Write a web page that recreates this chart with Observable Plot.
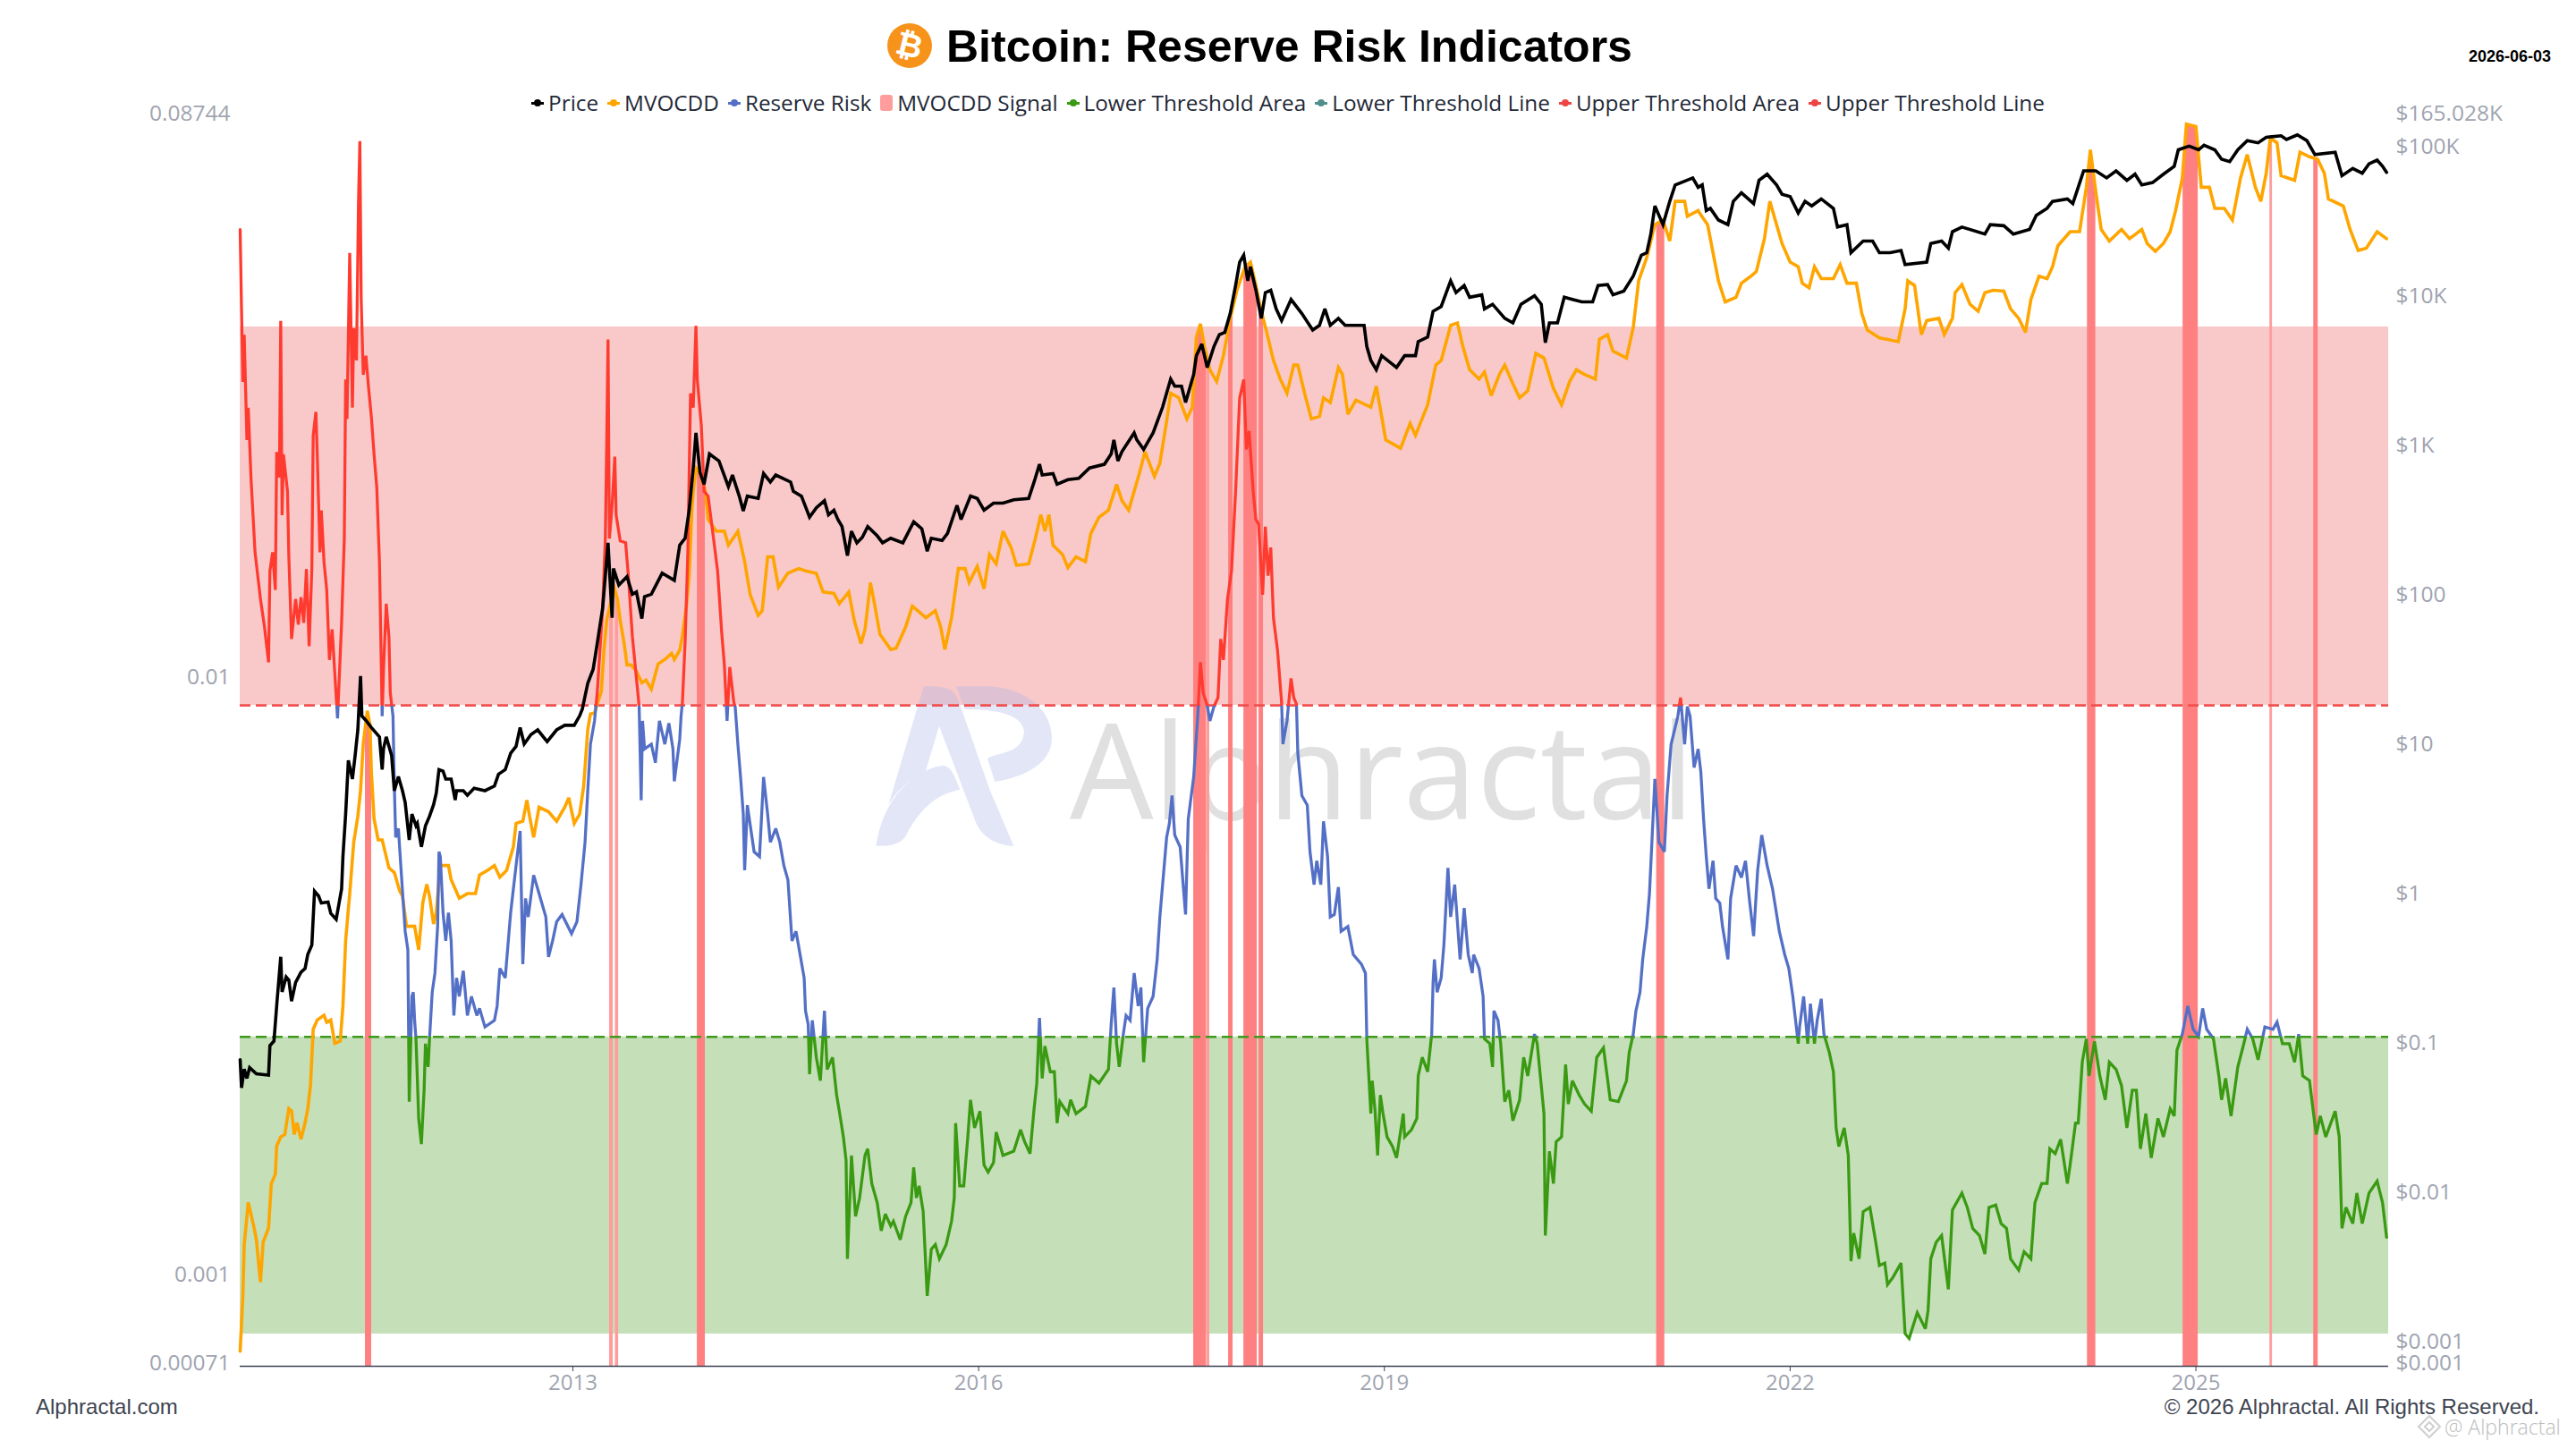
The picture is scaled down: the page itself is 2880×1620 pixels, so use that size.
<!DOCTYPE html>
<html><head><meta charset="utf-8">
<style>
html,body{margin:0;padding:0;background:#fff;width:2880px;height:1620px;overflow:hidden}
#page{position:relative;width:2880px;height:1620px}
#page svg.chart{position:absolute;left:0;top:0}
.abs{position:absolute;white-space:nowrap}
#title{left:1058px;top:22px;font:bold 50px "Liberation Sans",Arial,sans-serif;color:#000;line-height:60px}
#coin{left:992px;top:26px;width:50px;height:50px;border-radius:50%;background:#f7931a;color:#fff;font:bold 36px "DejaVu Sans",sans-serif;text-align:center;line-height:50px}
#coin span{display:inline-block;transform:rotate(14deg)}
#date{right:28px;top:53px;font:bold 18px "Liberation Sans",Arial,sans-serif;color:#000}
#legend{left:0;width:2890px;top:98px;display:flex;justify-content:center;align-items:center;font:24.3px "Open Sans",sans-serif;color:#1f2937;line-height:34px}
#legend .item{display:flex;align-items:center;margin-right:10px}
#legend .mark{position:relative;display:inline-block;width:14px;height:14px;margin-right:5px}
#legend .mark i{position:absolute;left:0;top:6px;width:14px;height:3px}
#legend .mark b{position:absolute;left:3px;top:3px;width:8px;height:8px;border-radius:50%}
#legend .mark.sq{border-radius:3px;height:18px}
.foot{font:24px "Liberation Sans",Arial,sans-serif;color:#3e4450;top:1560px;line-height:26px}
#wm{left:2733px;top:1586px;font:300 23px "Open Sans",sans-serif;color:#bdbdbd;line-height:18px}
#wmicon{left:2702px;top:1581px}
</style>
<script src="https://cdn.jsdelivr.net/npm/d3@7"></script>
<script src="https://cdn.jsdelivr.net/npm/@observablehq/plot@0.6"></script>
</head><body><div id="page">
<div class="abs" id="coin"><span>₿</span></div>
<div class="abs" id="title">Bitcoin: Reserve Risk Indicators</div>
<div class="abs" id="date">2026-06-03</div>
<div class="abs" id="legend"></div>
<div class="abs foot" style="left:40px">Alphractal.com</div>
<div class="abs foot" style="right:41px">© 2026 Alphractal. All Rights Reserved.</div>
<svg class="abs" id="wmicon" width="28" height="28" viewBox="0 0 28 28" fill="none" stroke="#cfcfcf" stroke-width="2"><path d="M14 2L26 14L14 26L2 14Z"/><path d="M14 9L19 14L14 19L9 14Z"/></svg>
<div class="abs" id="wm">@ Alphractal</div>
</div>
<script>
// [decimal year, log10 of the value on the price axis]
const priceSeries = [[2010.54,-1.095],[2010.55,-1.283],[2010.57,-1.158],[2010.59,-1.220],[2010.61,-1.148],[2010.66,-1.189],[2010.75,-1.198],[2010.76,-1.001],[2010.79,-.970],[2010.81,-.735],[2010.84,-.406],[2010.85,-.641],[2010.88,-.541],[2010.90,-.562],[2010.92,-.703],[2010.95,-.578],[2010.99,-.509],[2011.02,-.484],[2011.04,-.390],[2011.07,-.328],[2011.09,.033],[2011.12,.001],[2011.14,-.046],[2011.19,-.040],[2011.21,-.115],[2011.25,-.155],[2011.29,.048],[2011.30,.267],[2011.32,.549],[2011.34,.909],[2011.37,.784],[2011.39,.941],[2011.41,1.113],[2011.43,1.473],[2011.44,1.206],[2011.47,1.176],[2011.51,1.129],[2011.57,1.066],[2011.59,.847],[2011.60,.988],[2011.62,1.066],[2011.66,.941],[2011.68,.706],[2011.71,.800],[2011.74,.706],[2011.76,.628],[2011.79,.377],[2011.81,.549],[2011.84,.471],[2011.85,.487],[2011.88,.330],[2011.91,.471],[2011.94,.534],[2011.97,.612],[2011.99,.690],[2012.01,.847],[2012.04,.837],[2012.06,.784],[2012.10,.784],[2012.13,.643],[2012.14,.706],[2012.19,.706],[2012.22,.675],[2012.27,.722],[2012.35,.706],[2012.42,.737],[2012.45,.816],[2012.50,.847],[2012.54,.957],[2012.58,1.003],[2012.61,1.129],[2012.64,1.019],[2012.69,1.082],[2012.74,1.113],[2012.81,1.035],[2012.88,1.113],[2012.94,1.144],[2013.01,1.144],[2013.05,1.207],[2013.07,1.253],[2013.11,1.425],[2013.15,1.519],[2013.18,1.691],[2013.22,1.927],[2013.24,2.146],[2013.26,2.365],[2013.29,1.864],[2013.30,2.193],[2013.34,2.083],[2013.40,2.139],[2013.44,2.021],[2013.47,2.036],[2013.51,1.858],[2013.53,2.005],[2013.58,2.021],[2013.66,2.162],[2013.75,2.114],[2013.79,2.349],[2013.83,2.396],[2013.86,2.584],[2013.89,2.866],[2013.91,3.101],[2013.94,2.835],[2013.97,2.757],[2014.01,2.960],[2014.08,2.913],[2014.15,2.741],[2014.18,2.819],[2014.23,2.678],[2014.26,2.578],[2014.29,2.678],[2014.37,2.663],[2014.41,2.829],[2014.46,2.772],[2014.50,2.819],[2014.61,2.772],[2014.63,2.710],[2014.69,2.678],[2014.75,2.537],[2014.80,2.600],[2014.86,2.647],[2014.89,2.553],[2014.93,2.584],[2014.96,2.521],[2014.99,2.474],[2015.03,2.280],[2015.06,2.443],[2015.10,2.365],[2015.14,2.402],[2015.18,2.474],[2015.25,2.412],[2015.29,2.365],[2015.35,2.396],[2015.44,2.365],[2015.52,2.506],[2015.58,2.459],[2015.62,2.309],[2015.65,2.396],[2015.73,2.381],[2015.77,2.428],[2015.84,2.616],[2015.87,2.521],[2015.94,2.678],[2015.99,2.662],[2016.04,2.584],[2016.11,2.631],[2016.18,2.631],[2016.26,2.653],[2016.37,2.662],[2016.41,2.772],[2016.45,2.891],[2016.47,2.819],[2016.55,2.829],[2016.58,2.757],[2016.66,2.788],[2016.74,2.797],[2016.82,2.866],[2016.93,2.891],[2016.98,2.960],[2017.00,3.054],[2017.03,2.913],[2017.06,2.976],[2017.15,3.101],[2017.17,3.054],[2017.22,2.991],[2017.29,3.101],[2017.36,3.273],[2017.42,3.461],[2017.45,3.414],[2017.50,3.414],[2017.53,3.305],[2017.59,3.492],[2017.61,3.618],[2017.65,3.696],[2017.69,3.539],[2017.74,3.680],[2017.78,3.759],[2017.82,3.774],[2017.86,3.900],[2017.90,4.088],[2017.93,4.244],[2017.96,4.291],[2017.99,4.119],[2018.01,4.213],[2018.05,4.056],[2018.09,3.868],[2018.12,4.040],[2018.16,4.056],[2018.20,3.931],[2018.24,3.853],[2018.31,3.994],[2018.39,3.900],[2018.47,3.790],[2018.52,3.821],[2018.56,3.931],[2018.60,3.821],[2018.66,3.868],[2018.71,3.821],[2018.85,3.821],[2018.87,3.680],[2018.90,3.586],[2018.94,3.524],[2018.98,3.618],[2019.09,3.539],[2019.15,3.618],[2019.23,3.618],[2019.25,3.712],[2019.32,3.743],[2019.36,3.915],[2019.42,3.947],[2019.49,4.119],[2019.53,4.040],[2019.59,4.088],[2019.63,4.009],[2019.72,4.025],[2019.74,3.931],[2019.80,3.962],[2019.89,3.868],[2019.95,3.837],[2020.01,3.962],[2020.11,4.019],[2020.16,3.962],[2020.19,3.705],[2020.22,3.837],[2020.28,3.837],[2020.33,4.009],[2020.39,3.994],[2020.46,3.978],[2020.54,3.978],[2020.58,4.088],[2020.65,4.094],[2020.69,4.025],[2020.77,4.050],[2020.84,4.150],[2020.90,4.291],[2020.94,4.307],[2020.97,4.432],[2021.00,4.620],[2021.06,4.495],[2021.11,4.651],[2021.15,4.761],[2021.28,4.808],[2021.32,4.745],[2021.35,4.761],[2021.38,4.589],[2021.41,4.604],[2021.47,4.526],[2021.54,4.495],[2021.58,4.651],[2021.64,4.708],[2021.73,4.636],[2021.77,4.792],[2021.83,4.833],[2021.90,4.761],[2021.94,4.698],[2022.00,4.683],[2022.06,4.573],[2022.11,4.651],[2022.16,4.620],[2022.23,4.667],[2022.32,4.604],[2022.35,4.479],[2022.42,4.495],[2022.45,4.307],[2022.54,4.385],[2022.61,4.385],[2022.66,4.307],[2022.74,4.307],[2022.82,4.322],[2022.85,4.228],[2023.01,4.244],[2023.04,4.369],[2023.12,4.385],[2023.17,4.338],[2023.20,4.448],[2023.27,4.479],[2023.44,4.432],[2023.48,4.495],[2023.58,4.488],[2023.65,4.432],[2023.77,4.463],[2023.82,4.557],[2023.90,4.604],[2023.94,4.651],[2024.05,4.667],[2024.09,4.636],[2024.13,4.745],[2024.17,4.855],[2024.26,4.855],[2024.34,4.808],[2024.41,4.855],[2024.49,4.792],[2024.55,4.833],[2024.60,4.761],[2024.68,4.777],[2024.76,4.833],[2024.84,4.886],[2024.87,4.996],[2024.95,5.021],[2025.02,4.996],[2025.06,5.027],[2025.14,4.996],[2025.19,4.933],[2025.25,4.917],[2025.31,4.996],[2025.38,5.058],[2025.46,5.043],[2025.52,5.080],[2025.63,5.090],[2025.67,5.065],[2025.75,5.096],[2025.82,5.058],[2025.88,4.964],[2026.03,4.980],[2026.08,4.823],[2026.16,4.871],[2026.23,4.839],[2026.28,4.902],[2026.34,4.927],[2026.38,4.886],[2026.41,4.845]];

const mvocddSeries = [[2010.54,-3.046],[2010.56,-2.677],[2010.57,-2.332],[2010.60,-2.050],[2010.62,-2.129],[2010.64,-2.207],[2010.66,-2.300],[2010.69,-2.583],[2010.71,-2.316],[2010.75,-2.222],[2010.77,-1.925],[2010.80,-1.862],[2010.81,-1.674],[2010.84,-1.611],[2010.87,-1.596],[2010.90,-1.423],[2010.92,-1.439],[2010.94,-1.596],[2010.96,-1.517],[2010.99,-1.627],[2011.02,-1.517],[2011.04,-1.423],[2011.06,-1.267],[2011.08,-.891],[2011.11,-.829],[2011.16,-.797],[2011.18,-.844],[2011.21,-.829],[2011.24,-.985],[2011.28,-.970],[2011.30,-.735],[2011.32,-.296],[2011.35,.017],[2011.38,.362],[2011.41,.534],[2011.43,.706],[2011.45,1.019],[2011.48,1.241],[2011.50,1.146],[2011.51,.831],[2011.53,.518],[2011.56,.377],[2011.59,.377],[2011.64,.189],[2011.68,.158],[2011.72,.033],[2011.74,.001],[2011.77,-.202],[2011.83,-.202],[2011.86,-.359],[2011.89,-.046],[2011.92,.080],[2011.94,.001],[2011.97,-.186],[2011.99,-.108],[2012.02,.205],[2012.08,.205],[2012.10,.111],[2012.16,-.014],[2012.22,.017],[2012.28,.017],[2012.31,.142],[2012.37,.173],[2012.42,.205],[2012.46,.127],[2012.51,.173],[2012.56,.330],[2012.58,.487],[2012.63,.502],[2012.66,.643],[2012.68,.534],[2012.71,.393],[2012.75,.596],[2012.82,.565],[2012.88,.502],[2012.94,.596],[2012.97,.659],[2013.01,.487],[2013.05,.549],[2013.08,.737],[2013.11,1.113],[2013.13,1.219],[2013.16,1.226],[2013.18,1.285],[2013.21,1.368],[2013.23,1.646],[2013.25,1.847],[2013.28,1.967],[2013.30,2.087],[2013.33,1.985],[2013.35,1.847],[2013.38,1.686],[2013.40,1.548],[2013.43,1.548],[2013.47,1.506],[2013.51,1.428],[2013.54,1.447],[2013.58,1.386],[2013.63,1.554],[2013.68,1.584],[2013.73,1.625],[2013.75,1.584],[2013.79,1.646],[2013.81,1.745],[2013.84,1.945],[2013.86,2.146],[2013.88,2.585],[2013.89,2.709],[2013.91,2.866],[2013.94,2.835],[2013.98,2.709],[2014.00,2.521],[2014.06,2.443],[2014.12,2.443],[2014.15,2.349],[2014.22,2.443],[2014.27,2.240],[2014.31,2.021],[2014.37,1.879],[2014.40,1.911],[2014.44,2.271],[2014.48,2.271],[2014.52,2.068],[2014.59,2.162],[2014.67,2.193],[2014.72,2.177],[2014.80,2.161],[2014.85,2.036],[2014.93,2.027],[2014.97,1.958],[2015.04,2.036],[2015.08,1.848],[2015.13,1.691],[2015.16,1.785],[2015.20,2.099],[2015.23,1.958],[2015.27,1.754],[2015.35,1.651],[2015.39,1.660],[2015.46,1.801],[2015.51,1.942],[2015.61,1.864],[2015.68,1.911],[2015.72,1.801],[2015.75,1.651],[2015.80,1.864],[2015.85,2.193],[2015.90,2.193],[2015.93,2.099],[2015.99,2.208],[2016.04,2.058],[2016.08,2.287],[2016.13,2.224],[2016.18,2.443],[2016.24,2.334],[2016.28,2.215],[2016.37,2.224],[2016.42,2.396],[2016.46,2.553],[2016.49,2.443],[2016.52,2.553],[2016.55,2.349],[2016.62,2.287],[2016.66,2.199],[2016.72,2.271],[2016.79,2.240],[2016.83,2.428],[2016.89,2.537],[2016.96,2.584],[2017.02,2.756],[2017.06,2.647],[2017.11,2.584],[2017.19,2.835],[2017.23,2.976],[2017.30,2.810],[2017.34,2.897],[2017.39,3.179],[2017.42,3.367],[2017.48,3.336],[2017.54,3.195],[2017.58,3.273],[2017.61,3.743],[2017.64,3.831],[2017.67,3.680],[2017.71,3.524],[2017.76,3.445],[2017.81,3.618],[2017.86,3.868],[2017.91,4.056],[2017.97,4.213],[2018.01,4.244],[2018.05,4.088],[2018.09,3.915],[2018.13,3.774],[2018.18,3.586],[2018.23,3.461],[2018.28,3.367],[2018.33,3.555],[2018.36,3.555],[2018.41,3.367],[2018.46,3.195],[2018.52,3.211],[2018.55,3.336],[2018.60,3.305],[2018.66,3.539],[2018.69,3.492],[2018.73,3.226],[2018.79,3.320],[2018.90,3.273],[2018.94,3.414],[2018.98,3.211],[2019.01,3.054],[2019.12,2.998],[2019.19,3.164],[2019.23,3.085],[2019.32,3.289],[2019.38,3.555],[2019.42,3.586],[2019.49,3.821],[2019.54,3.837],[2019.58,3.680],[2019.63,3.524],[2019.70,3.461],[2019.74,3.508],[2019.79,3.351],[2019.85,3.492],[2019.89,3.555],[2019.95,3.430],[2020.00,3.336],[2020.06,3.383],[2020.12,3.633],[2020.18,3.602],[2020.25,3.398],[2020.31,3.289],[2020.37,3.445],[2020.42,3.524],[2020.48,3.492],[2020.56,3.461],[2020.59,3.727],[2020.65,3.759],[2020.69,3.649],[2020.79,3.602],[2020.84,3.806],[2020.88,4.119],[2020.94,4.275],[2021.00,4.495],[2021.06,4.526],[2021.11,4.385],[2021.15,4.651],[2021.22,4.651],[2021.24,4.551],[2021.32,4.589],[2021.33,4.573],[2021.39,4.495],[2021.43,4.307],[2021.47,4.119],[2021.52,3.978],[2021.60,4.009],[2021.64,4.103],[2021.71,4.150],[2021.75,4.181],[2021.81,4.401],[2021.85,4.651],[2021.90,4.495],[2021.94,4.369],[2022.00,4.244],[2022.06,4.213],[2022.09,4.103],[2022.14,4.072],[2022.18,4.213],[2022.23,4.134],[2022.32,4.134],[2022.37,4.228],[2022.42,4.103],[2022.49,4.103],[2022.53,3.900],[2022.57,3.790],[2022.66,3.737],[2022.72,3.727],[2022.80,3.712],[2022.85,3.931],[2022.87,4.119],[2022.92,4.088],[2022.97,3.759],[2023.01,3.853],[2023.10,3.868],[2023.14,3.759],[2023.20,3.868],[2023.22,4.040],[2023.27,4.094],[2023.33,3.962],[2023.39,3.915],[2023.44,4.040],[2023.50,4.056],[2023.58,4.050],[2023.63,3.931],[2023.69,3.868],[2023.74,3.774],[2023.78,3.994],[2023.84,4.150],[2023.90,4.134],[2023.94,4.213],[2023.98,4.354],[2024.07,4.448],[2024.14,4.448],[2024.19,4.745],[2024.22,4.996],[2024.26,4.714],[2024.30,4.463],[2024.36,4.385],[2024.45,4.463],[2024.51,4.401],[2024.60,4.463],[2024.64,4.369],[2024.70,4.316],[2024.76,4.369],[2024.81,4.448],[2024.85,4.589],[2024.90,4.808],[2024.93,5.168],[2025.00,5.152],[2025.04,4.745],[2025.10,4.745],[2025.14,4.604],[2025.21,4.604],[2025.27,4.526],[2025.33,4.808],[2025.38,4.964],[2025.44,4.745],[2025.48,4.651],[2025.52,4.839],[2025.55,5.074],[2025.60,5.043],[2025.63,4.823],[2025.73,4.792],[2025.77,4.980],[2025.84,4.949],[2025.90,4.933],[2025.95,4.839],[2025.98,4.667],[2026.09,4.620],[2026.14,4.463],[2026.20,4.322],[2026.26,4.338],[2026.34,4.448],[2026.41,4.401]];

// [decimal year, log10 of Reserve Risk on the left axis]
const riskSeries = [[2010.54,-1.247],[2010.55,-1.380],[2010.56,-1.502],[2010.57,-1.423],[2010.59,-1.599],[2010.60,-1.545],[2010.62,-1.662],[2010.65,-1.787],[2010.69,-1.865],[2010.72,-1.912],[2010.75,-1.971],[2010.76,-1.818],[2010.78,-1.787],[2010.80,-1.850],[2010.81,-1.619],[2010.83,-1.662],[2010.84,-1.400],[2010.85,-1.725],[2010.86,-1.623],[2010.89,-1.685],[2010.90,-1.795],[2010.92,-1.932],[2010.95,-1.865],[2010.97,-1.908],[2010.99,-1.862],[2011.01,-1.905],[2011.03,-1.815],[2011.05,-1.944],[2011.07,-1.815],[2011.08,-1.592],[2011.10,-1.552],[2011.11,-1.623],[2011.13,-1.787],[2011.14,-1.717],[2011.16,-1.803],[2011.18,-1.850],[2011.20,-1.967],[2011.22,-1.916],[2011.26,-2.065],[2011.29,-1.905],[2011.31,-1.764],[2011.32,-1.498],[2011.33,-1.564],[2011.35,-1.286],[2011.37,-1.545],[2011.38,-1.412],[2011.40,-1.466],[2011.415,-1.200],[2011.425,-1.099],[2011.435,-1.365],[2011.45,-1.490],[2011.47,-1.458],[2011.49,-1.513],[2011.51,-1.560],[2011.53,-1.623],[2011.55,-1.678],[2011.57,-1.803],[2011.59,-2.061],[2011.60,-1.983],[2011.62,-1.873],[2011.64,-1.928],[2011.65,-2.022],[2011.67,-2.061],[2011.68,-2.178],[2011.69,-2.264],[2011.71,-2.249],[2011.73,-2.319],[2011.76,-2.421],[2011.78,-2.452],[2011.79,-2.706],[2011.81,-2.530],[2011.82,-2.523],[2011.83,-2.570],[2011.84,-2.601],[2011.86,-2.734],[2011.88,-2.777],[2011.90,-2.687],[2011.91,-2.609],[2011.93,-2.648],[2011.94,-2.601],[2011.96,-2.523],[2011.98,-2.491],[2012.00,-2.413],[2012.01,-2.288],[2012.02,-2.296],[2012.04,-2.390],[2012.06,-2.437],[2012.08,-2.390],[2012.10,-2.437],[2012.12,-2.562],[2012.14,-2.499],[2012.16,-2.530],[2012.19,-2.487],[2012.22,-2.562],[2012.25,-2.530],[2012.29,-2.562],[2012.31,-2.550],[2012.35,-2.581],[2012.42,-2.570],[2012.44,-2.546],[2012.46,-2.483],[2012.50,-2.499],[2012.52,-2.444],[2012.54,-2.390],[2012.58,-2.311],[2012.61,-2.253],[2012.63,-2.476],[2012.65,-2.366],[2012.67,-2.397],[2012.71,-2.327],[2012.75,-2.358],[2012.80,-2.397],[2012.82,-2.464],[2012.85,-2.437],[2012.88,-2.405],[2012.92,-2.393],[2012.99,-2.425],[2013.03,-2.405],[2013.06,-2.343],[2013.09,-2.272],[2013.11,-2.186],[2013.13,-2.108],[2013.16,-2.069],[2013.18,-2.022],[2013.22,-1.881],[2013.24,-1.764],[2013.25,-1.607],[2013.26,-1.431],[2013.27,-1.764],[2013.29,-1.709],[2013.31,-1.627],[2013.32,-1.725],[2013.35,-1.768],[2013.39,-1.771],[2013.41,-1.826],[2013.44,-1.928],[2013.47,-1.998],[2013.49,-2.045],[2013.505,-2.202],[2013.515,-2.069],[2013.53,-2.116],[2013.58,-2.108],[2013.61,-2.139],[2013.64,-2.069],[2013.68,-2.108],[2013.71,-2.073],[2013.74,-2.116],[2013.75,-2.170],[2013.79,-2.100],[2013.80,-2.061],[2013.81,-2.038],[2013.83,-1.936],[2013.85,-1.787],[2013.87,-1.521],[2013.89,-1.545],[2013.91,-1.408],[2013.92,-1.498],[2013.95,-1.576],[2013.97,-1.685],[2014.00,-1.693],[2014.04,-1.764],[2014.07,-1.818],[2014.10,-1.920],[2014.12,-1.975],[2014.14,-2.069],[2014.16,-1.979],[2014.19,-2.038],[2014.20,-2.045],[2014.22,-2.108],[2014.24,-2.163],[2014.26,-2.225],[2014.27,-2.319],[2014.29,-2.210],[2014.34,-2.288],[2014.38,-2.296],[2014.41,-2.163],[2014.44,-2.225],[2014.46,-2.272],[2014.50,-2.249],[2014.53,-2.272],[2014.56,-2.311],[2014.59,-2.335],[2014.62,-2.437],[2014.65,-2.421],[2014.68,-2.460],[2014.71,-2.499],[2014.72,-2.554],[2014.74,-2.577],[2014.75,-2.660],[2014.77,-2.570],[2014.80,-2.632],[2014.83,-2.671],[2014.86,-2.554],[2014.88,-2.652],[2014.92,-2.632],[2014.95,-2.695],[2014.97,-2.722],[2015.00,-2.765],[2015.02,-2.804],[2015.03,-2.969],[2015.06,-2.796],[2015.09,-2.898],[2015.12,-2.867],[2015.16,-2.796],[2015.18,-2.785],[2015.21,-2.843],[2015.25,-2.875],[2015.28,-2.922],[2015.31,-2.894],[2015.35,-2.914],[2015.37,-2.906],[2015.42,-2.937],[2015.46,-2.898],[2015.50,-2.875],[2015.52,-2.816],[2015.54,-2.867],[2015.56,-2.847],[2015.59,-2.890],[2015.62,-3.031],[2015.65,-2.953],[2015.68,-2.945],[2015.71,-2.969],[2015.76,-2.945],[2015.80,-2.906],[2015.82,-2.867],[2015.83,-2.742],[2015.86,-2.847],[2015.89,-2.847],[2015.92,-2.765],[2015.94,-2.703],[2015.97,-2.750],[2016.01,-2.722],[2016.04,-2.812],[2016.07,-2.824],[2016.11,-2.808],[2016.13,-2.757],[2016.18,-2.796],[2016.26,-2.789],[2016.31,-2.753],[2016.34,-2.773],[2016.38,-2.793],[2016.41,-2.718],[2016.43,-2.675],[2016.45,-2.566],[2016.47,-2.667],[2016.49,-2.613],[2016.53,-2.656],[2016.56,-2.656],[2016.58,-2.742],[2016.60,-2.706],[2016.66,-2.726],[2016.68,-2.703],[2016.72,-2.726],[2016.79,-2.714],[2016.83,-2.663],[2016.89,-2.675],[2016.96,-2.652],[2016.98,-2.577],[2017.00,-2.515],[2017.02,-2.609],[2017.04,-2.648],[2017.07,-2.593],[2017.09,-2.562],[2017.12,-2.570],[2017.15,-2.491],[2017.18,-2.546],[2017.20,-2.515],[2017.22,-2.640],[2017.25,-2.550],[2017.29,-2.530],[2017.32,-2.468],[2017.34,-2.397],[2017.39,-2.264],[2017.41,-2.241],[2017.43,-2.194],[2017.45,-2.260],[2017.49,-2.280],[2017.53,-2.393],[2017.55,-2.233],[2017.59,-2.163],[2017.62,-2.061],[2017.64,-1.971],[2017.66,-2.022],[2017.69,-2.043],[2017.71,-2.069],[2017.74,-2.045],[2017.77,-2.030],[2017.79,-1.932],[2017.81,-1.967],[2017.84,-1.865],[2017.87,-1.818],[2017.90,-1.685],[2017.93,-1.529],[2017.96,-1.498],[2017.98,-1.615],[2018.00,-1.584],[2018.03,-1.685],[2018.05,-1.732],[2018.07,-1.740],[2018.10,-1.858],[2018.12,-1.744],[2018.14,-1.826],[2018.16,-1.779],[2018.18,-1.897],[2018.21,-1.951],[2018.24,-2.038],[2018.25,-2.108],[2018.28,-2.069],[2018.31,-1.998],[2018.33,-2.030],[2018.35,-2.041],[2018.36,-2.123],[2018.39,-2.194],[2018.43,-2.210],[2018.45,-2.288],[2018.48,-2.343],[2018.50,-2.303],[2018.53,-2.343],[2018.55,-2.237],[2018.58,-2.296],[2018.60,-2.397],[2018.63,-2.393],[2018.66,-2.347],[2018.68,-2.421],[2018.73,-2.413],[2018.77,-2.460],[2018.83,-2.476],[2018.86,-2.491],[2018.87,-2.601],[2018.90,-2.726],[2018.91,-2.671],[2018.93,-2.718],[2018.95,-2.796],[2018.97,-2.695],[2018.99,-2.726],[2019.02,-2.765],[2019.06,-2.781],[2019.09,-2.800],[2019.14,-2.726],[2019.15,-2.765],[2019.20,-2.753],[2019.24,-2.734],[2019.25,-2.663],[2019.28,-2.632],[2019.32,-2.656],[2019.35,-2.593],[2019.36,-2.507],[2019.37,-2.468],[2019.39,-2.523],[2019.42,-2.499],[2019.44,-2.444],[2019.47,-2.315],[2019.49,-2.397],[2019.52,-2.343],[2019.56,-2.468],[2019.59,-2.382],[2019.62,-2.460],[2019.65,-2.491],[2019.66,-2.460],[2019.70,-2.483],[2019.73,-2.530],[2019.74,-2.601],[2019.78,-2.609],[2019.80,-2.648],[2019.81,-2.554],[2019.84,-2.570],[2019.86,-2.609],[2019.89,-2.706],[2019.92,-2.687],[2019.95,-2.738],[2020.00,-2.703],[2020.03,-2.632],[2020.06,-2.663],[2020.11,-2.593],[2020.13,-2.609],[2020.16,-2.679],[2020.18,-2.726],[2020.19,-2.930],[2020.22,-2.789],[2020.25,-2.843],[2020.27,-2.773],[2020.31,-2.765],[2020.34,-2.644],[2020.36,-2.710],[2020.39,-2.671],[2020.44,-2.695],[2020.48,-2.710],[2020.53,-2.722],[2020.57,-2.632],[2020.62,-2.616],[2020.67,-2.703],[2020.73,-2.706],[2020.79,-2.671],[2020.81,-2.624],[2020.84,-2.593],[2020.86,-2.554],[2020.89,-2.523],[2020.91,-2.468],[2020.94,-2.413],[2020.96,-2.358],[2021.00,-2.166],[2021.03,-2.272],[2021.07,-2.288],[2021.09,-2.194],[2021.12,-2.108],[2021.17,-2.061],[2021.19,-2.030],[2021.22,-2.108],[2021.24,-2.045],[2021.26,-2.061],[2021.29,-2.147],[2021.32,-2.116],[2021.34,-2.155],[2021.36,-2.233],[2021.38,-2.296],[2021.40,-2.350],[2021.43,-2.303],[2021.45,-2.366],[2021.48,-2.374],[2021.50,-2.413],[2021.54,-2.468],[2021.56,-2.366],[2021.60,-2.311],[2021.64,-2.331],[2021.67,-2.303],[2021.70,-2.370],[2021.73,-2.429],[2021.76,-2.319],[2021.79,-2.260],[2021.83,-2.311],[2021.87,-2.350],[2021.92,-2.421],[2021.96,-2.460],[2021.99,-2.483],[2022.02,-2.530],[2022.06,-2.609],[2022.07,-2.581],[2022.10,-2.530],[2022.13,-2.609],[2022.15,-2.542],[2022.18,-2.609],[2022.20,-2.570],[2022.23,-2.534],[2022.25,-2.593],[2022.29,-2.624],[2022.32,-2.656],[2022.34,-2.750],[2022.36,-2.781],[2022.40,-2.750],[2022.43,-2.796],[2022.45,-2.973],[2022.47,-2.926],[2022.51,-2.969],[2022.54,-2.890],[2022.59,-2.883],[2022.63,-2.937],[2022.66,-2.980],[2022.70,-2.976],[2022.72,-3.012],[2022.76,-3.000],[2022.82,-2.976],[2022.85,-3.094],[2022.88,-3.102],[2022.94,-3.059],[2023.00,-3.086],[2023.02,-3.055],[2023.04,-2.969],[2023.08,-2.941],[2023.12,-2.930],[2023.17,-3.020],[2023.20,-2.887],[2023.27,-2.859],[2023.31,-2.883],[2023.35,-2.918],[2023.40,-2.930],[2023.44,-2.961],[2023.47,-2.883],[2023.52,-2.879],[2023.56,-2.910],[2023.60,-2.918],[2023.63,-2.969],[2023.69,-2.988],[2023.73,-2.957],[2023.78,-2.969],[2023.81,-2.875],[2023.86,-2.843],[2023.90,-2.843],[2023.92,-2.785],[2023.96,-2.793],[2024.00,-2.769],[2024.05,-2.843],[2024.07,-2.812],[2024.11,-2.742],[2024.13,-2.742],[2024.16,-2.640],[2024.19,-2.601],[2024.21,-2.663],[2024.25,-2.605],[2024.29,-2.663],[2024.33,-2.703],[2024.36,-2.640],[2024.41,-2.652],[2024.45,-2.679],[2024.49,-2.750],[2024.53,-2.687],[2024.56,-2.687],[2024.59,-2.785],[2024.63,-2.726],[2024.67,-2.800],[2024.72,-2.734],[2024.76,-2.765],[2024.81,-2.718],[2024.84,-2.730],[2024.86,-2.620],[2024.90,-2.593],[2024.94,-2.546],[2024.98,-2.585],[2025.02,-2.597],[2025.05,-2.550],[2025.08,-2.585],[2025.13,-2.601],[2025.17,-2.663],[2025.19,-2.703],[2025.22,-2.667],[2025.26,-2.730],[2025.31,-2.648],[2025.35,-2.613],[2025.38,-2.585],[2025.42,-2.601],[2025.46,-2.636],[2025.51,-2.581],[2025.57,-2.585],[2025.60,-2.573],[2025.64,-2.609],[2025.69,-2.609],[2025.73,-2.640],[2025.76,-2.593],[2025.79,-2.663],[2025.84,-2.671],[2025.87,-2.726],[2025.89,-2.761],[2025.92,-2.730],[2025.96,-2.765],[2026.03,-2.722],[2026.06,-2.765],[2026.08,-2.918],[2026.11,-2.883],[2026.16,-2.910],[2026.19,-2.859],[2026.23,-2.910],[2026.28,-2.859],[2026.34,-2.839],[2026.38,-2.875],[2026.41,-2.933]];

// MVOCDD signal windows [start, end], decimal years
const signalWindows = [[2011.466,2011.512],[2013.92,2013.979],[2017.59,2017.683],[2017.848,2017.881],[2017.961,2018.06],[2018.073,2018.106],[2021.013,2021.073],[2024.198,2024.26],[2024.905,2025.017],[2025.871,2025.904]];
const faintWindows = [[2013.271,2013.298],[2013.314,2013.338],[2017.685,2017.709],[2025.547,2025.566]];

const riskUpper = -2.043, riskUpperTop = -1.41, riskLower = -2.5977, riskLowerBottom = -3.0947;
const riskTicks = [[-1.0583,"0.08744"],[-2,"0.01"],[-3,"0.001"],[-3.1487,"0.00071"]];
const priceTicks = [[5.2175,"$165.028K"],[5,"$100K"],[4,"$10K"],[3,"$1K"],[2,"$100"],[1,"$10"],[0,"$1"],[-1,"$0.1"],[-2,"$0.01"],[-3,"$0.001"],[-3.147,"$0.001"]];
const yearTicks = [2013,2016,2019,2022,2025];
const legendItems = [["Price","#000","line"],["MVOCDD","#ffa500","line"],["Reserve Risk","#5470c6","line"],["MVOCDD Signal","#ff9d9d","sq"],["Lower Threshold Area","#3a9a12","line"],["Lower Threshold Line","#4f8f8a","line"],["Upper Threshold Area","#ef4444","line"],["Upper Threshold Line","#ef4444","line"]];

const yearDomain = [2010.54,2026.425], yDomain = [-3.147,5.2175];
const riskDomain = [-3.1487,-1.0583];
const toAxis = L => yDomain[0] + (L-riskDomain[0])*(yDomain[1]-yDomain[0])/(riskDomain[1]-riskDomain[0]);
const mvAt = t => { const i = d3.bisectLeft(mvocddSeries.map(d=>d[0]),t); const a=mvocddSeries[Math.max(0,i-1)], b=mvocddSeries[Math.min(mvocddSeries.length-1,i)]; return b[0]===a[0]?a[1]:a[1]+(b[1]-a[1])*(t-a[0])/(b[0]-a[0]); };
const bandRows = ws => ws.flatMap((w,k)=>[[w[0],mvAt(w[0])],...mvocddSeries.filter(d=>d[0]>w[0]&&d[0]<w[1]),[w[1],mvAt(w[1])]].map(d=>({t:d[0],v:d[1],k})));

const legend = document.getElementById("legend");
for (const [name,color,kind] of legendItems) {
  const it = document.createElement("div"); it.className="item";
  it.innerHTML = kind==="sq" ? `<span class="mark sq" style="background:${color}"></span>${name}` : `<span class="mark"><i style="background:${color}"></i><b style="background:${color}"></b></span>${name}`;
  legend.appendChild(it);
}

const watermark = () => {
  const g = d3.create("svg:g");
  g.append("text").attr("x",1196).attr("y",916).attr("text-anchor","start").attr("font-family","Open Sans").attr("font-size",148).attr("fill","#e0e0e0").text("Alphractal");
  g.append("path").attr("transform","translate(960,740) scale(0.3333)").attr("fill","#a8b4e8").attr("fill-opacity",0.33)
   .attr("d","M218,82C270,80 320,80 335,130L440,430L520,617C470,617 410,590 390,530L270,215ZM218,82L270,215L225,365C170,395 130,430 100,480ZM58,617C70,540 100,470 150,420C200,370 250,350 285,348C310,350 320,380 340,428C260,445 210,490 165,570C150,610 110,620 58,617ZM327,82L440,82C560,90 650,160 648,260C645,340 560,385 457,402L432,325C470,300 550,310 555,235C550,180 480,160 355,158Z");
  return g.node();
};
const riskGradient = (_, {y}) => {
  const d = d3.create("svg:defs");
  const gr = d.append("linearGradient").attr("id","riskStroke").attr("gradientUnits","userSpaceOnUse").attr("x1",0).attr("x2",0).attr("y1",y(yDomain[1])).attr("y2",y(yDomain[0]));
  const h = y(yDomain[0])-y(yDomain[1]);
  const u = (y(toAxis(riskUpper))-y(yDomain[1]))/h, l = (y(toAxis(riskLower))-y(yDomain[1]))/h;
  [[0,"#ff3b30"],[u,"#ff3b30"],[u,"#5470c6"],[l,"#5470c6"],[l,"#3a9a12"],[1,"#3a9a12"]].forEach(([o,c])=>gr.append("stop").attr("offset",o).attr("stop-color",c));
  return d.node();
};

const axisFont = "Open Sans", axisColor = "#a0a4b0";
const chart = Plot.plot({
  width:2880, height:1620, marginLeft:268, marginRight:210, marginTop:130, marginBottom:93,
  className:"chart",
  style:{background:"transparent",fontFamily:axisFont},
  x:{type:"linear",domain:yearDomain,axis:null},
  y:{type:"linear",domain:yDomain,axis:null},
  marks:[
    Plot.rect([{a:yearDomain[0],b:yearDomain[1],c:toAxis(riskUpper),d:toAxis(riskUpperTop)}],{x1:"a",x2:"b",y1:"c",y2:"d",fill:"#f9c9ca"}),
    Plot.rect([{a:yearDomain[0],b:yearDomain[1],c:toAxis(riskLowerBottom),d:toAxis(riskLower)}],{x1:"a",x2:"b",y1:"c",y2:"d",fill:"#c5dfb9"}),
    watermark,
    Plot.areaY(bandRows(signalWindows),{x:"t",y1:yDomain[0],y2:"v",z:"k",fill:"#ff8080"}),
    Plot.areaY(bandRows(faintWindows),{x:"t",y1:yDomain[0],y2:"v",z:"k",fill:"#ff9c9c"}),
    Plot.ruleY([toAxis(riskUpper)],{stroke:"#f05050",strokeWidth:2.7,strokeDasharray:"12 6"}),
    Plot.ruleY([toAxis(riskLower)],{stroke:"#3d9a1c",strokeWidth:2.7,strokeDasharray:"12 6"}),
    Plot.line(mvocddSeries,{x:d=>d[0],y:d=>d[1],stroke:"#ffa500",strokeWidth:3.6,strokeLinejoin:"miter",strokeMiterlimit:3,curve:"linear"}),
    riskGradient,
    Plot.line(riskSeries,{x:d=>d[0],y:d=>toAxis(d[1]),stroke:"url(#riskStroke)",strokeWidth:3.3,strokeLinejoin:"miter",strokeMiterlimit:3,curve:"linear"}),
    Plot.line(priceSeries,{x:d=>d[0],y:d=>d[1],stroke:"#000",strokeWidth:3.6,strokeLinejoin:"miter",strokeMiterlimit:3,curve:"linear"}),
    Plot.ruleY([yDomain[0]],{stroke:"#3a4252",strokeWidth:1.5}),
    Plot.axisX({ticks:yearTicks,tickFormat:d=>String(d),tickSize:6,tickPadding:3,fontSize:24,color:axisColor,stroke:"#3a4252",label:null}),
    Plot.axisY({anchor:"left",ticks:riskTicks.map(d=>toAxis(d[0])),tickFormat:(d)=>riskTicks.find(r=>Math.abs(toAxis(r[0])-d)<1e-6)[1],tickSize:0,tickPadding:11,dy:-3,fontSize:24.5,color:axisColor,label:null}),
    Plot.axisY({anchor:"right",ticks:priceTicks.map(d=>d[0]),tickFormat:(d)=>priceTicks.find(r=>r[0]===d)[1],tickSize:0,tickPadding:8,dy:-3,fontSize:24.5,color:axisColor,label:null})
  ]
});
document.getElementById("page").prepend(chart);
</script>
</body></html>
